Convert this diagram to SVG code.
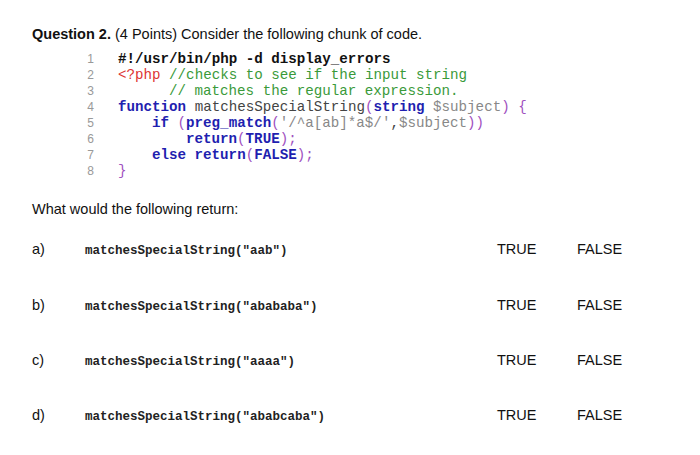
<svg xmlns="http://www.w3.org/2000/svg" width="700" height="455" viewBox="0 0 700 455">
<style>
.s{font-family:"Liberation Sans",Arial,sans-serif;font-size:14.5px;fill:#111}
.m{font-family:"Liberation Mono","DejaVu Sans Mono",monospace;font-size:14.2px;fill:#444;white-space:pre}
.n{font-family:"Liberation Sans",sans-serif;font-size:12px;fill:#999}
.k{fill:#1f1fb0;font-weight:bold}
.c{fill:#3a9a3a}
.r{fill:#d33}
.p{fill:#a050c0}
.g{fill:#888}
.q{font-family:"Liberation Mono","DejaVu Sans Mono",monospace;font-size:12.5px;fill:#222;font-weight:bold}
</style>
<rect width="700" height="455" fill="#fff"/>
<text class="s" x="32" y="39"><tspan font-weight="bold">Question 2.</tspan> (4 Points) Consider the following chunk of code.</text>
<g id="lines" class="n" text-anchor="end">
<text x="94" y="63">1</text><text x="94" y="79">2</text><text x="94" y="95">3</text><text x="94" y="111">4</text>
<text x="94" y="127">5</text><text x="94" y="143">6</text><text x="94" y="159">7</text><text x="94" y="175">8</text>
</g>
<g id="code" class="m">
<text x="118" y="63" font-weight="bold" fill="#111">#!/usr/bin/php -d display_errors</text>
<text x="118" y="79"><tspan class="r">&lt;?php</tspan><tspan class="c"> //checks to see if the input string</tspan></text>
<text x="169" y="95" class="c">// matches the regular expression.</text>
<text x="118" y="111"><tspan class="k">function</tspan> matchesSpecialString<tspan class="p">(</tspan><tspan class="k">string</tspan> <tspan class="g">$subject</tspan><tspan class="p">) {</tspan></text>
<text x="152" y="127"><tspan class="k">if</tspan> <tspan class="p">(</tspan><tspan class="k">preg_match</tspan><tspan class="p">(</tspan><tspan class="g">'/^a[ab]*a$/'</tspan>,<tspan class="g">$subject</tspan><tspan class="p">))</tspan></text>
<text x="186" y="143"><tspan class="k">return</tspan><tspan class="p">(</tspan><tspan class="k">TRUE</tspan><tspan class="p">);</tspan></text>
<text x="152" y="159"><tspan class="k">else return</tspan><tspan class="p">(</tspan><tspan class="k">FALSE</tspan><tspan class="p">);</tspan></text>
<text x="118" y="175" class="p">}</text>
</g>
<text class="s" x="32" y="214">What would the following return:</text>
<g id="a" class="s"><text x="32" y="254">a)</text><text class="q" x="85" y="254">matchesSpecialString("aab")</text><text x="497" y="254">TRUE</text><text x="577" y="254">FALSE</text></g>
<g id="b" class="s"><text x="32" y="310">b)</text><text class="q" x="85" y="310">matchesSpecialString("abababa")</text><text x="497" y="310">TRUE</text><text x="577" y="310">FALSE</text></g>
<g id="c" class="s"><text x="32" y="365">c)</text><text class="q" x="85" y="365">matchesSpecialString("aaaa")</text><text x="497" y="365">TRUE</text><text x="577" y="365">FALSE</text></g>
<g id="d" class="s"><text x="32" y="420">d)</text><text class="q" x="85" y="420">matchesSpecialString("ababcaba")</text><text x="497" y="420">TRUE</text><text x="577" y="420">FALSE</text></g>
</svg>
